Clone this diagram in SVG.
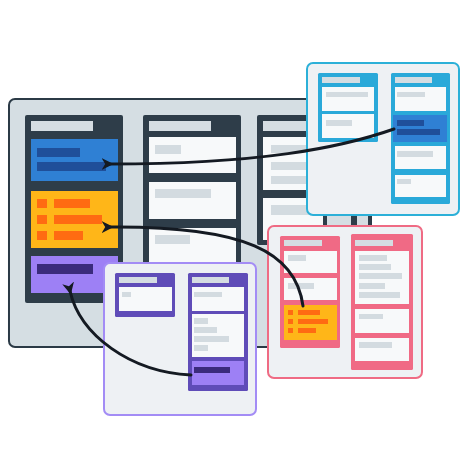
<svg xmlns="http://www.w3.org/2000/svg" width="474" height="474" viewBox="0 0 474 474">
<defs>
<style>
.col{fill:#2e3d49}
.hdr{fill:#d5dde2}
.card{fill:#f7f9fa}
.bar{fill:#d3dbe0}
.panel{fill:#eef1f4;stroke-width:2}
.wire{fill:none;stroke:#141a22;stroke-width:3;stroke-linecap:round}
.or{fill:#ff6b12}
</style>
<marker id="ah" viewBox="0 0 10 10" refX="3" refY="5" markerWidth="4" markerHeight="4" orient="auto-start-reverse" markerUnits="strokeWidth">
<path d="M0 5 L10 0 L7 5 L10 10 Z" fill="#141a22"/>
</marker>
</defs>
<rect width="474" height="474" fill="#ffffff"/>

<g id="main-board">
<rect x="9" y="99" width="362" height="248" rx="6" fill="#d5dee3" stroke="#2b3a46" stroke-width="2"/>
<!-- column 1 -->
<rect class="col" x="25" y="115" width="98" height="188" rx="2"/>
<rect class="hdr" x="31" y="121" width="62" height="10"/>
<rect x="31" y="139" width="87" height="42" fill="#2f80d4"/>
<rect x="37" y="148" width="43" height="9" fill="#1f4f9a"/>
<rect x="37" y="162" width="69" height="9" fill="#1f4f9a"/>
<rect x="31" y="191" width="87" height="57" fill="#ffb618"/>
<rect class="or" x="37" y="199" width="10" height="9"/>
<rect class="or" x="37" y="215" width="10" height="9"/>
<rect class="or" x="37" y="231" width="10" height="9"/>
<rect class="or" x="54" y="199" width="36" height="9"/>
<rect class="or" x="54" y="215" width="48" height="9"/>
<rect class="or" x="54" y="231" width="29" height="9"/>
<rect x="31" y="256" width="87" height="37" fill="#9d80f5"/>
<rect x="37" y="264" width="56" height="10" fill="#3b2b7c"/>
<!-- column 2 -->
<rect class="col" x="143" y="115" width="98" height="190" rx="2"/>
<rect class="hdr" x="149" y="121" width="62" height="10"/>
<rect class="card" x="149" y="137" width="87" height="36"/>
<rect class="bar" x="155" y="145" width="26" height="9"/>
<rect class="card" x="149" y="182" width="87" height="37"/>
<rect class="bar" x="155" y="189" width="56" height="9"/>
<rect class="card" x="149" y="228" width="87" height="60"/>
<rect class="bar" x="155" y="235" width="35" height="9"/>
<!-- column 3 -->
<rect class="col" x="257" y="115" width="70" height="130" rx="2"/>
<rect class="hdr" x="263" y="121" width="60" height="10"/>
<rect class="card" x="263" y="137" width="60" height="53"/>
<rect class="bar" x="271" y="145" width="40" height="8"/>
<rect class="bar" x="271" y="162" width="40" height="8"/>
<rect class="bar" x="271" y="176" width="40" height="8"/>
<rect class="card" x="263" y="198" width="60" height="42"/>
<rect class="bar" x="271" y="205" width="40" height="10"/>
<!-- column 4 -->
<rect class="col" x="351" y="115" width="20" height="130"/>
<rect class="hdr" x="357" y="200" width="11" height="30"/>
</g>

<g id="blue-panel">
<rect class="panel" x="307" y="63" width="152" height="152" rx="6" stroke="#2cb0d8"/>
<rect x="318" y="73" width="60" height="69" rx="1.5" fill="#2aa9d9"/>
<rect class="hdr" x="322" y="77" width="38" height="6"/>
<rect class="card" x="322" y="87" width="52" height="24"/>
<rect class="bar" x="326" y="92" width="42" height="5"/>
<rect class="card" x="322" y="114" width="52" height="24"/>
<rect class="bar" x="326" y="120" width="26" height="6"/>
<rect x="391" y="73" width="59" height="131" rx="1.5" fill="#2aa9d9"/>
<rect class="hdr" x="395" y="77" width="37" height="6"/>
<rect class="card" x="395" y="87" width="51" height="24"/>
<rect class="bar" x="397" y="92" width="28" height="5"/>
<rect x="393" y="115" width="54" height="27" fill="#2f80d4"/>
<rect x="397" y="120" width="27" height="6" fill="#1f4f9a"/>
<rect x="397" y="129" width="43" height="6" fill="#1f4f9a"/>
<rect class="card" x="395" y="146" width="51" height="23"/>
<rect class="bar" x="397" y="151" width="36" height="6"/>
<rect class="card" x="395" y="175" width="51" height="22"/>
<rect class="bar" x="397" y="179" width="14" height="5"/>
</g>

<g id="pink-panel">
<rect class="panel" x="268" y="226" width="154" height="152" rx="6" stroke="#ef6b84"/>
<rect x="280" y="236" width="60" height="112" rx="1.5" fill="#f06a85"/>
<rect class="hdr" x="284" y="240" width="38" height="6"/>
<rect class="card" x="284" y="251" width="53" height="22"/>
<rect class="bar" x="288" y="255" width="18" height="6"/>
<rect class="card" x="284" y="278" width="53" height="22"/>
<rect class="bar" x="288" y="283" width="26" height="6"/>
<rect x="284" y="305" width="53" height="35" fill="#ffb618"/>
<rect class="or" x="288" y="310" width="5" height="5"/>
<rect class="or" x="288" y="319" width="5" height="5"/>
<rect class="or" x="288" y="328" width="5" height="5"/>
<rect class="or" x="298" y="310" width="22" height="5"/>
<rect class="or" x="298" y="319" width="30" height="5"/>
<rect class="or" x="298" y="328" width="18" height="5"/>
<rect x="351" y="234" width="62" height="136" rx="1.5" fill="#f06a85"/>
<rect class="hdr" x="355" y="240" width="38" height="6"/>
<rect class="card" x="355" y="251" width="54" height="53"/>
<rect class="bar" x="359" y="255" width="28" height="6"/>
<rect class="bar" x="359" y="264" width="32" height="6"/>
<rect class="bar" x="359" y="273" width="43" height="6"/>
<rect class="bar" x="359" y="283" width="26" height="6"/>
<rect class="bar" x="359" y="292" width="41" height="6"/>
<rect class="card" x="355" y="309" width="54" height="24"/>
<rect class="bar" x="359" y="314" width="24" height="5"/>
<rect class="card" x="355" y="338" width="54" height="23"/>
<rect class="bar" x="359" y="342" width="33" height="6"/>
</g>

<g id="purple-panel">
<rect class="panel" x="104" y="263" width="152" height="152" rx="6" stroke="#a38cf5"/>
<rect x="115" y="273" width="60" height="44" rx="1.5" fill="#5f4cb8"/>
<rect class="hdr" x="119" y="277" width="38" height="6"/>
<rect class="card" x="119" y="287" width="53" height="24"/>
<rect class="bar" x="122" y="292" width="9" height="5"/>
<rect x="188" y="273" width="60" height="118" rx="1.5" fill="#5f4cb8"/>
<rect class="hdr" x="192" y="277" width="37" height="6"/>
<rect class="card" x="192" y="287" width="52" height="24"/>
<rect class="bar" x="194" y="292" width="28" height="5"/>
<rect class="card" x="192" y="314" width="52" height="43"/>
<rect class="bar" x="194" y="318" width="14" height="6"/>
<rect class="bar" x="194" y="327" width="23" height="6"/>
<rect class="bar" x="194" y="336" width="35" height="6"/>
<rect class="bar" x="194" y="345" width="14" height="6"/>
<rect x="192" y="361" width="52" height="24" fill="#9d80f5"/>
<rect x="194" y="367" width="36" height="6" fill="#3b2b7c"/>
</g>

<g id="connectors">
<path class="wire" d="M394 129 C 340 148, 260 164, 110 164" marker-end="url(#ah)"/>
<path class="wire" d="M303 306 C 296 252, 245 226, 110 227" marker-end="url(#ah)"/>
<path class="wire" d="M191 375 C 130 372, 80 335, 70 291" marker-end="url(#ah)"/>
</g>
</svg>
